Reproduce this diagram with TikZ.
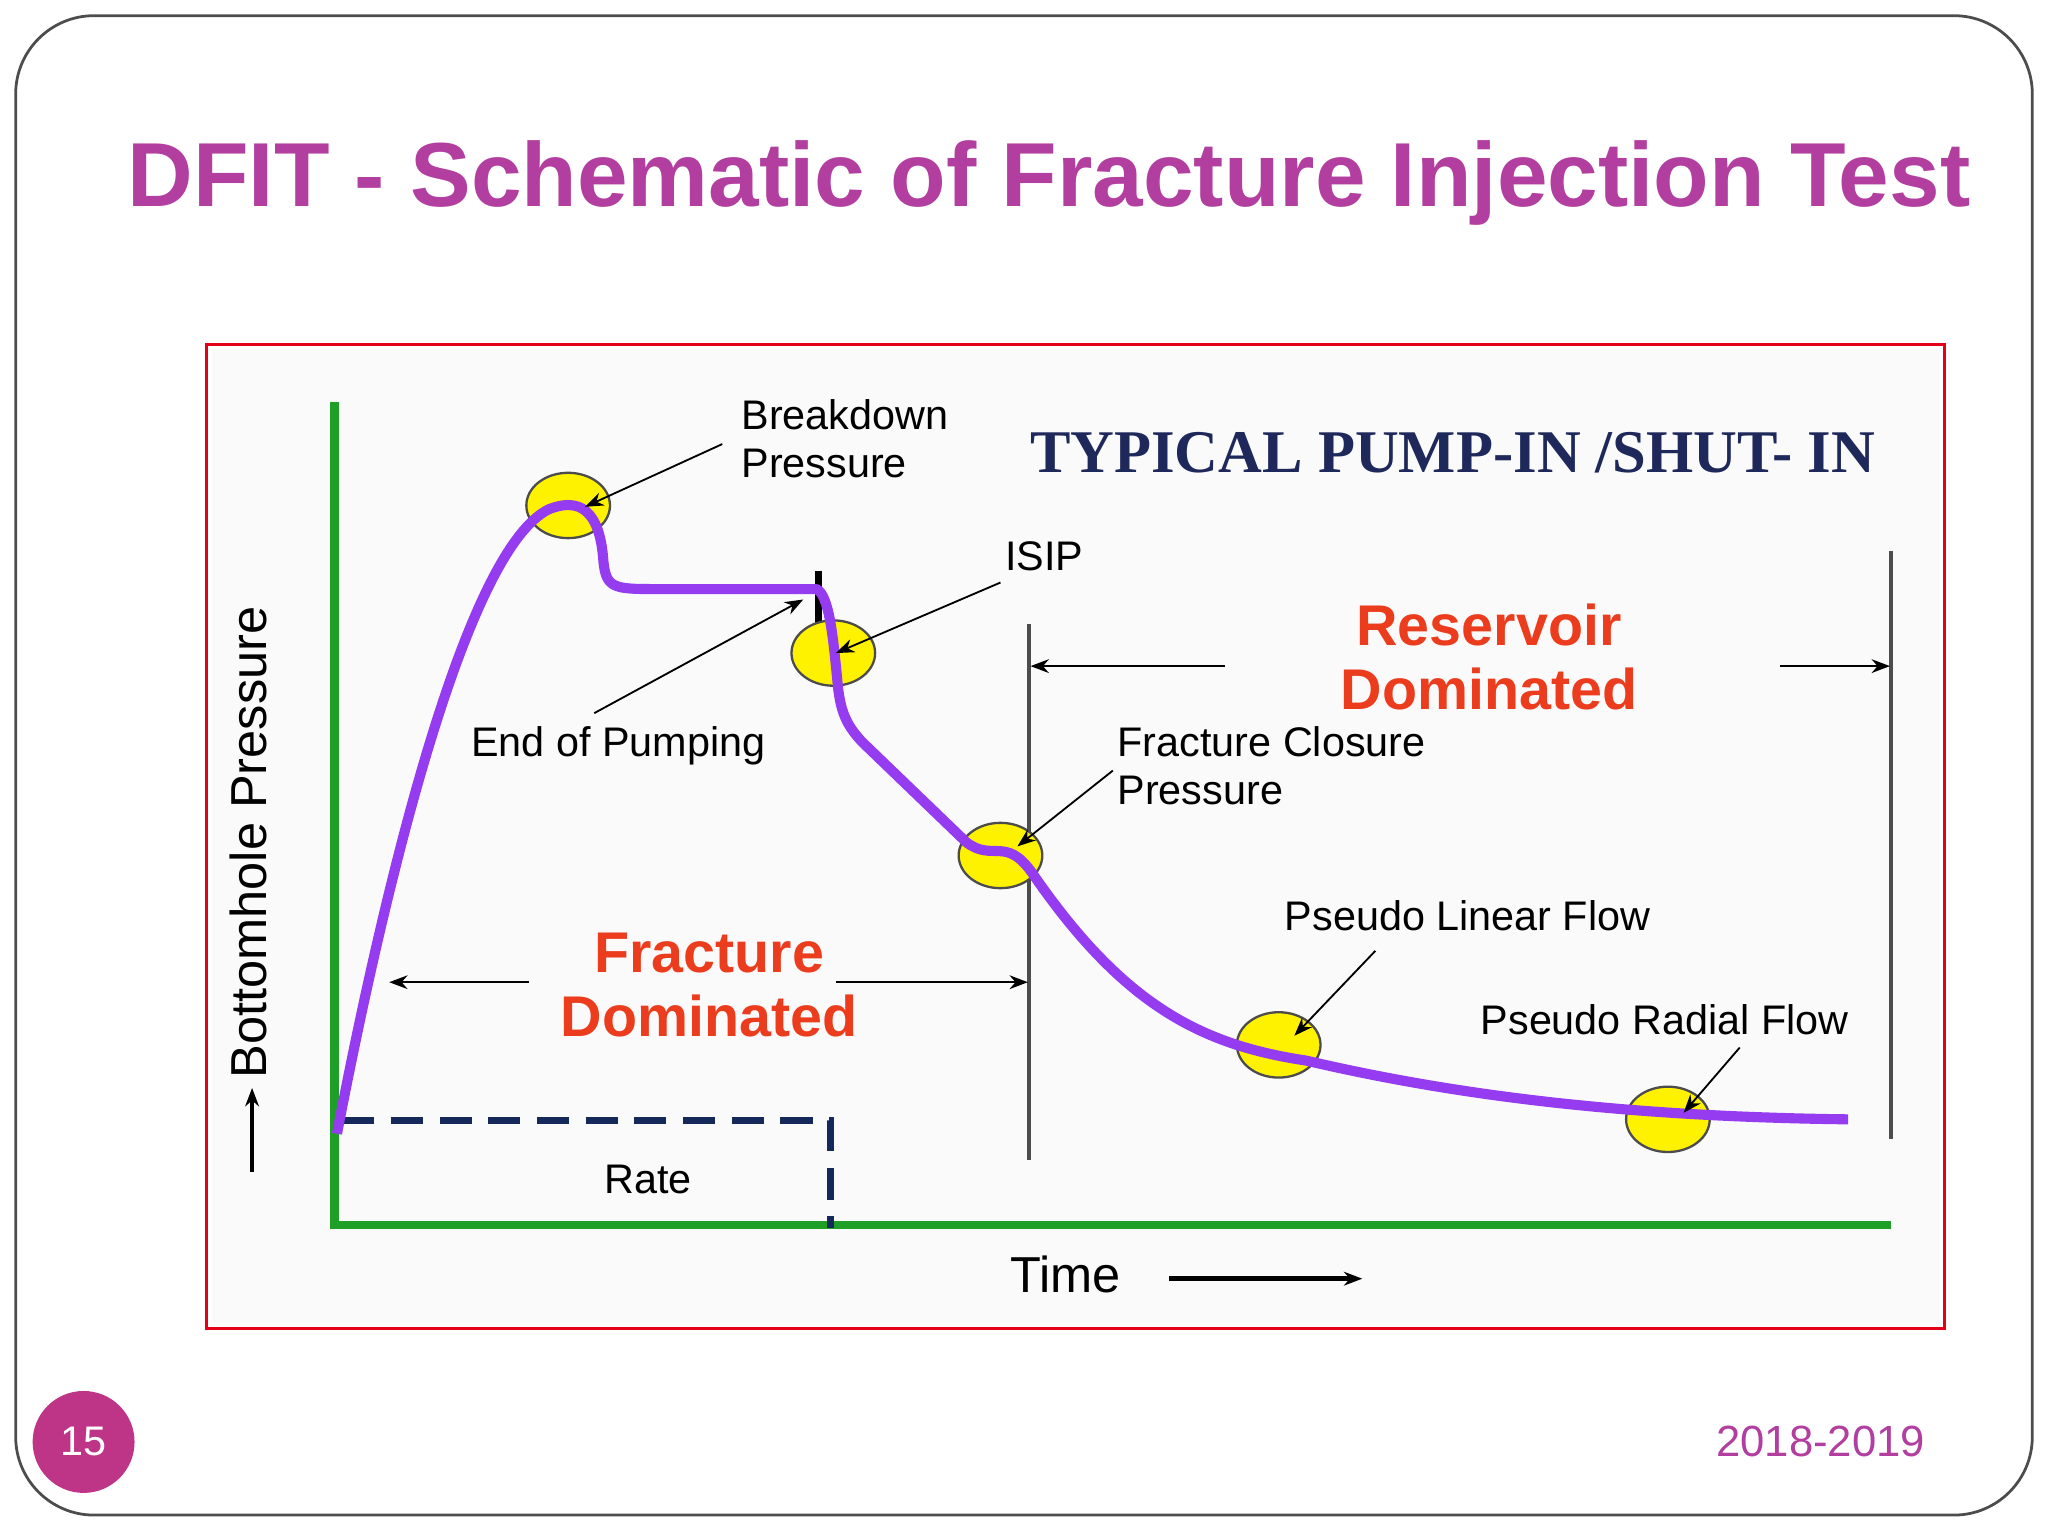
\documentclass[tikz,border=0pt]{standalone}
\usepackage{fontspec}
\setmainfont{Liberation Sans}
\newfontfamily\serifb{Liberation Serif}
\usetikzlibrary{arrows.meta,shapes.geometric}
\definecolor{ttl}{RGB}{178,62,160}
\definecolor{curve}{RGB}{150,60,240}
\definecolor{ax}{RGB}{30,160,40}
\definecolor{redl}{RGB}{236,60,30}
\definecolor{navy}{RGB}{30,40,90}
\definecolor{dashcol}{RGB}{20,40,90}
\tikzset{
 lbl/.style={font=\fontsize{9}{10.5}\selectfont, align=left, inner sep=0pt},
 big/.style={font=\fontsize{12.5}{14}\selectfont\bfseries, text=redl, align=center, inner sep=0pt},
 spot/.style={draw=black!70, fill=yellow, ellipse, minimum width=0.64cm, minimum height=0.5cm, inner sep=0pt, line width=0.5pt},
 ptr/.style={-{Stealth[length=4pt]}, line width=0.4pt},
 dim/.style={-{Stealth[length=4pt]}, line width=0.4pt},
}
\begin{document}
\begin{tikzpicture}[x=0.01cm,y=-0.01cm]
\useasboundingbox (0,0) rectangle (1568,1176);
\draw[black!70, line width=0.6pt, rounded corners=0.6cm] (12,12) rectangle (1556,1160);
\node[text=ttl, font=\fontsize{19.8}{22}\selectfont\bfseries, anchor=west, inner sep=0pt] (title) at (97,140) {DFIT - Schematic of Fracture Injection Test};
\draw[red!60!purple, line width=0.7pt, fill=white] (158,264) rectangle (1489,1017);
\fill[black!2] (162,268) rectangle (1485,1013);
% axes
\coordinate (o) at (256,938);
\coordinate (yt) at (256,308);
\coordinate (xe) at (1448,938);
\draw[ax, line width=1.8pt] (yt) -- (o) -- (xe);
% rate
\coordinate (r1) at (262,858); \coordinate (r2) at (636,858); \coordinate (r3) at (636,940);
\draw[dashcol, dash pattern=on 7pt off 3.6pt, line width=1.6pt] (r1) -- (r2) -- (r3);
\node[lbl] (rate) at (496,903) {Rate};
% vertical lines
\coordinate (v1a) at (788,478); \coordinate (v1b) at (788,888);
\draw[black!70, line width=0.8pt] (v1a) -- (v1b);
\coordinate (v2a) at (1448,422); \coordinate (v2b) at (1448,872);
\draw[black!70, line width=0.8pt] (v2a) -- (v2b);
\coordinate (ia) at (627,437); \coordinate (ib) at (627,477);
\draw[black, line width=1.5pt] (ia) -- (ib);
% spots
\node[spot] (s1) at (435,387) {};
\node[spot] (s2) at (638,500) {};
\node[spot] (s3) at (766,655) {};
\node[spot] (s4) at (979,800) {};
\node[spot] (s5) at (1277,857) {};
% curve
\draw[curve, line width=2.2pt, line join=round] (258,868) .. controls (300,650) and (360,420) .. (420,390)
 .. controls (450,378) and (460,400) .. (462,430) .. controls (464,450) and (470,451) .. (500,451)
 -- (625,451) .. controls (635,455) and (638,490) .. (641,520) .. controls (643,545) and (648,555) .. (660,568)
 -- (740,645) .. controls (760,660) and (770,640) .. (790,668)
 .. controls (860,770) and (920,800) .. (1000,812) .. controls (1120,840) and (1250,855) .. (1415,857);
% labels
\node[lbl, anchor=west] (bp) at (567,336) {Breakdown\\Pressure};
\node[font=\fontsize{13.2}{15}\selectfont\serifb\bfseries, text=navy, anchor=west, inner sep=0pt] (typ) at (788,347) {TYPICAL PUMP-IN /SHUT- IN};
\node[lbl, anchor=west] (isip) at (769,426) {ISIP};
\node[lbl, anchor=west] (eop) at (360,571) {End of Pumping};
\node[big] (rd) at (1140,503) {Reservoir\\Dominated};
\node[lbl, anchor=west] (fcp) at (855,586) {Fracture Closure\\Pressure};
\node[lbl, anchor=west] (plf) at (983,701) {Pseudo Linear Flow};
\node[lbl, anchor=west] (prf) at (1133,781) {Pseudo Radial Flow};
\node[big] (fd) at (543,754) {Fracture\\Dominated};
\node[font=\fontsize{11}{12}\selectfont, inner sep=0pt] (time) at (816,976) {Time};
\node[font=\fontsize{11}{12}\selectfont, rotate=90, inner sep=0pt] (bhp) at (190,645) {Bottomhole Pressure};
% pointers
\coordinate (bpa) at (553,340); \draw[ptr] (bpa) -- (448,388);
\coordinate (isa) at (766,446); \draw[ptr] (isa) -- (640,500);
\coordinate (eoa) at (455,546); \draw[ptr] (eoa) -- (615,459);
\coordinate (fca) at (852,590); \draw[ptr] (fca) -- (779,648);
\coordinate (pla) at (1053,728); \draw[ptr] (pla) -- (991,793);
\coordinate (pra) at (1332,802); \draw[ptr] (pra) -- (1289,852);
% dimension arrows
\coordinate (d1) at (405,752); \draw[dim] (d1) -- (298,752);
\coordinate (d2) at (640,752); \draw[dim] (d2) -- (787,752);
\coordinate (d3) at (938,510); \draw[dim] (d3) -- (789,510);
\coordinate (d4) at (1363,510); \draw[dim] (d4) -- (1447,510);
\coordinate (ta) at (895,979); \coordinate (tb) at (1043,979); \draw[dim, line width=1pt] (ta) -- (tb);
\coordinate (ba) at (193,897); \coordinate (bb) at (193,833); \draw[dim, line width=1pt] (ba) -- (bb);
% footer
\node[circle, fill=ttl!85!red, minimum size=0.78cm, text=white, font=\fontsize{9}{11}\selectfont, inner sep=0pt] (pg) at (64,1104) {15};
\node[text=ttl, font=\fontsize{9.5}{11}\selectfont, inner sep=0pt] (yr) at (1394,1104) {2018-2019};
\end{tikzpicture}
\end{document}
